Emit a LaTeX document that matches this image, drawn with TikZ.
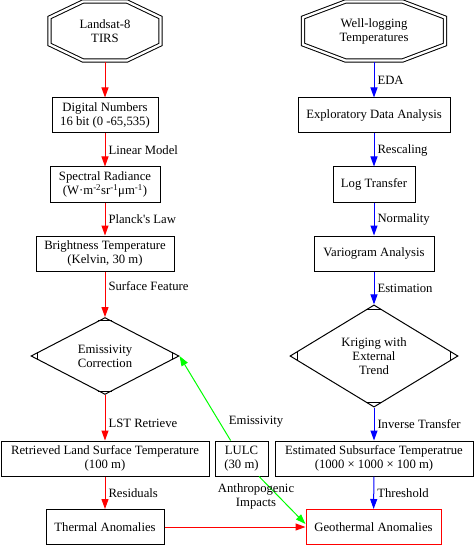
\documentclass[tikz,border=0pt]{standalone}
\usepackage{fontspec}
\setmainfont{Liberation Serif}
\usepackage{tikz}
\usepackage{xcolor}
\usetikzlibrary{shapes.geometric, arrows.meta, calc}
\definecolor{LST_Red}{HTML}{FF0000}
\definecolor{Well_Blue}{HTML}{0000FF}
\definecolor{LULC_Green}{HTML}{00FF00}

\begin{document}
\begin{tikzpicture}[x=1pt, y=1pt, font=\fontsize{12.7}{14}\selectfont,
  box/.style={draw, rectangle, minimum height=35pt, inner sep=2pt, align=center, line width=1pt},
  octo/.style={minimum width=115pt, minimum height=62pt, inner sep=0pt, align=center},
  dbl/.style={draw, double, double distance=2.3pt, line width=1pt},
  mdiam/.style={draw, diamond, inner sep=0pt, align=center, line width=1pt},
  red edge/.style={-{Triangle[length=10pt, width=7pt]}, LST_Red, line width=1pt},
  blue edge/.style={-{Triangle[length=10pt, width=7pt]}, Well_Blue, line width=1pt},
  green edge/.style={-{Triangle[length=10pt, width=7pt]}, LULC_Green, line width=1pt},
  lbl/.style={right, inner sep=3pt, text=black}]
\useasboundingbox (0,0) rectangle (474,-545);

% --- satellite branch ---
\node[octo] (landsat) at (105,-31) {Landsat-8\\TIRS};
\draw[dbl, shift={(landsat.center)}] (-22,29.5) -- (22,29.5) -- (55.5,13.5) -- (55.5,-13.5)
  -- (22,-29.5) -- (-22,-29.5) -- (-55.5,-13.5) -- (-55.5,13.5) -- cycle;
\node[box, minimum width=106pt] (dn) at (105,-115.5) {Digital Numbers\\16 bit (0 -65,535)};
\node[box, minimum width=110pt] (sr) at (105,-184.5) {Spectral Radiance\\(W·m\textsuperscript{-2}sr\textsuperscript{-1}μm\textsuperscript{-1})};
\node[box, minimum width=138pt] (bt) at (105,-253.5) {Brightness Temperature\\(Kelvin, 30 m)};
\node[mdiam, minimum width=148pt, minimum height=68pt] (emis) at (105,-356) {Emissivity\\Correction};
\node[box, minimum width=208pt] (lst) at (105,-458.5) {Retrieved Land Surface Temperature\\(100 m)};
\node[box, minimum width=118pt] (thermal) at (105,-527) {Thermal Anomalies};
\node[box, minimum width=53pt] (lulc) at (241.5,-458.5) {LULC\\(30 m)};

% --- well branch ---
\node[octo, minimum width=145pt] (well) at (374,-31) {Well-logging\\Temperatures};
\draw[dbl, shift={(well.center)}] (-28.5,29.5) -- (28.5,29.5) -- (71,13.5) -- (71,-13.5)
  -- (28.5,-29.5) -- (-28.5,-29.5) -- (-71,-13.5) -- (-71,13.5) -- cycle;
\node[box, minimum width=152pt] (eda) at (374,-115.5) {Exploratory Data Analysis};
\node[box, minimum width=82pt] (logt) at (374,-184.5) {Log Transfer};
\node[box, minimum width=120pt] (vario) at (374,-253.5) {Variogram Analysis};
\node[mdiam, minimum width=168pt, minimum height=98pt] (krig) at (374,-356) {Kriging with\\External\\Trend};
\node[box, minimum width=198pt] (est) at (374,-458.5) {Estimated Subsurface Temperatrue\\(1000 × 1000 × 100 m)};
\node[box, minimum width=135pt, draw=LST_Red] (geo) at (373.5,-527) {Geothermal Anomalies};

% Mdiamond corner cuts
\foreach \d in {emis, krig} {
  \draw[line width=1pt] ($(\d.north)!0.1!(\d.west)$) -- ($(\d.north)!0.1!(\d.east)$);
  \draw[line width=1pt] ($(\d.south)!0.1!(\d.west)$) -- ($(\d.south)!0.1!(\d.east)$);
  \draw[line width=1pt] ($(\d.west)!0.1!(\d.north)$) -- ($(\d.west)!0.1!(\d.south)$);
  \draw[line width=1pt] ($(\d.east)!0.1!(\d.north)$) -- ($(\d.east)!0.1!(\d.south)$);
}

% --- edges ---
\draw[red edge] (landsat.south) -- (dn);
\draw[red edge] (dn) -- node[lbl] {Linear Model} (sr);
\draw[red edge] (sr) -- node[lbl] {Planck\textquotesingle s Law} (bt);
\draw[red edge] (bt) -- node[lbl, pos=0.33] {Surface Feature} (emis);
\draw[red edge] (emis) -- node[lbl, pos=0.63] {LST Retrieve} (lst);
\draw[red edge] (lst) -- node[lbl] {Residuals} (thermal);
\draw[red edge] (thermal) -- (geo);

\draw[blue edge] (well.south) -- node[lbl] {EDA} (eda);
\draw[blue edge] (eda) -- node[lbl] {Rescaling} (logt);
\draw[blue edge] (logt) -- node[lbl] {Normality} (vario);
\draw[blue edge] (vario) -- node[lbl] {Estimation} (krig);
\draw[blue edge] (krig) -- node[lbl] {Inverse Transfer} (est);
\draw[blue edge] (est) -- node[lbl] {Threshold} (geo);

\draw[green edge] (lulc) -- node[lbl, pos=0.22, xshift=6pt] {Emissivity} (emis.east);
\draw[green edge] (lulc) -- node[pos=0.43, xshift=-23pt, align=center, text=black] {Anthropogenic\\Impacts} ([yshift=3pt]geo.west);
\end{tikzpicture}
\end{document}
